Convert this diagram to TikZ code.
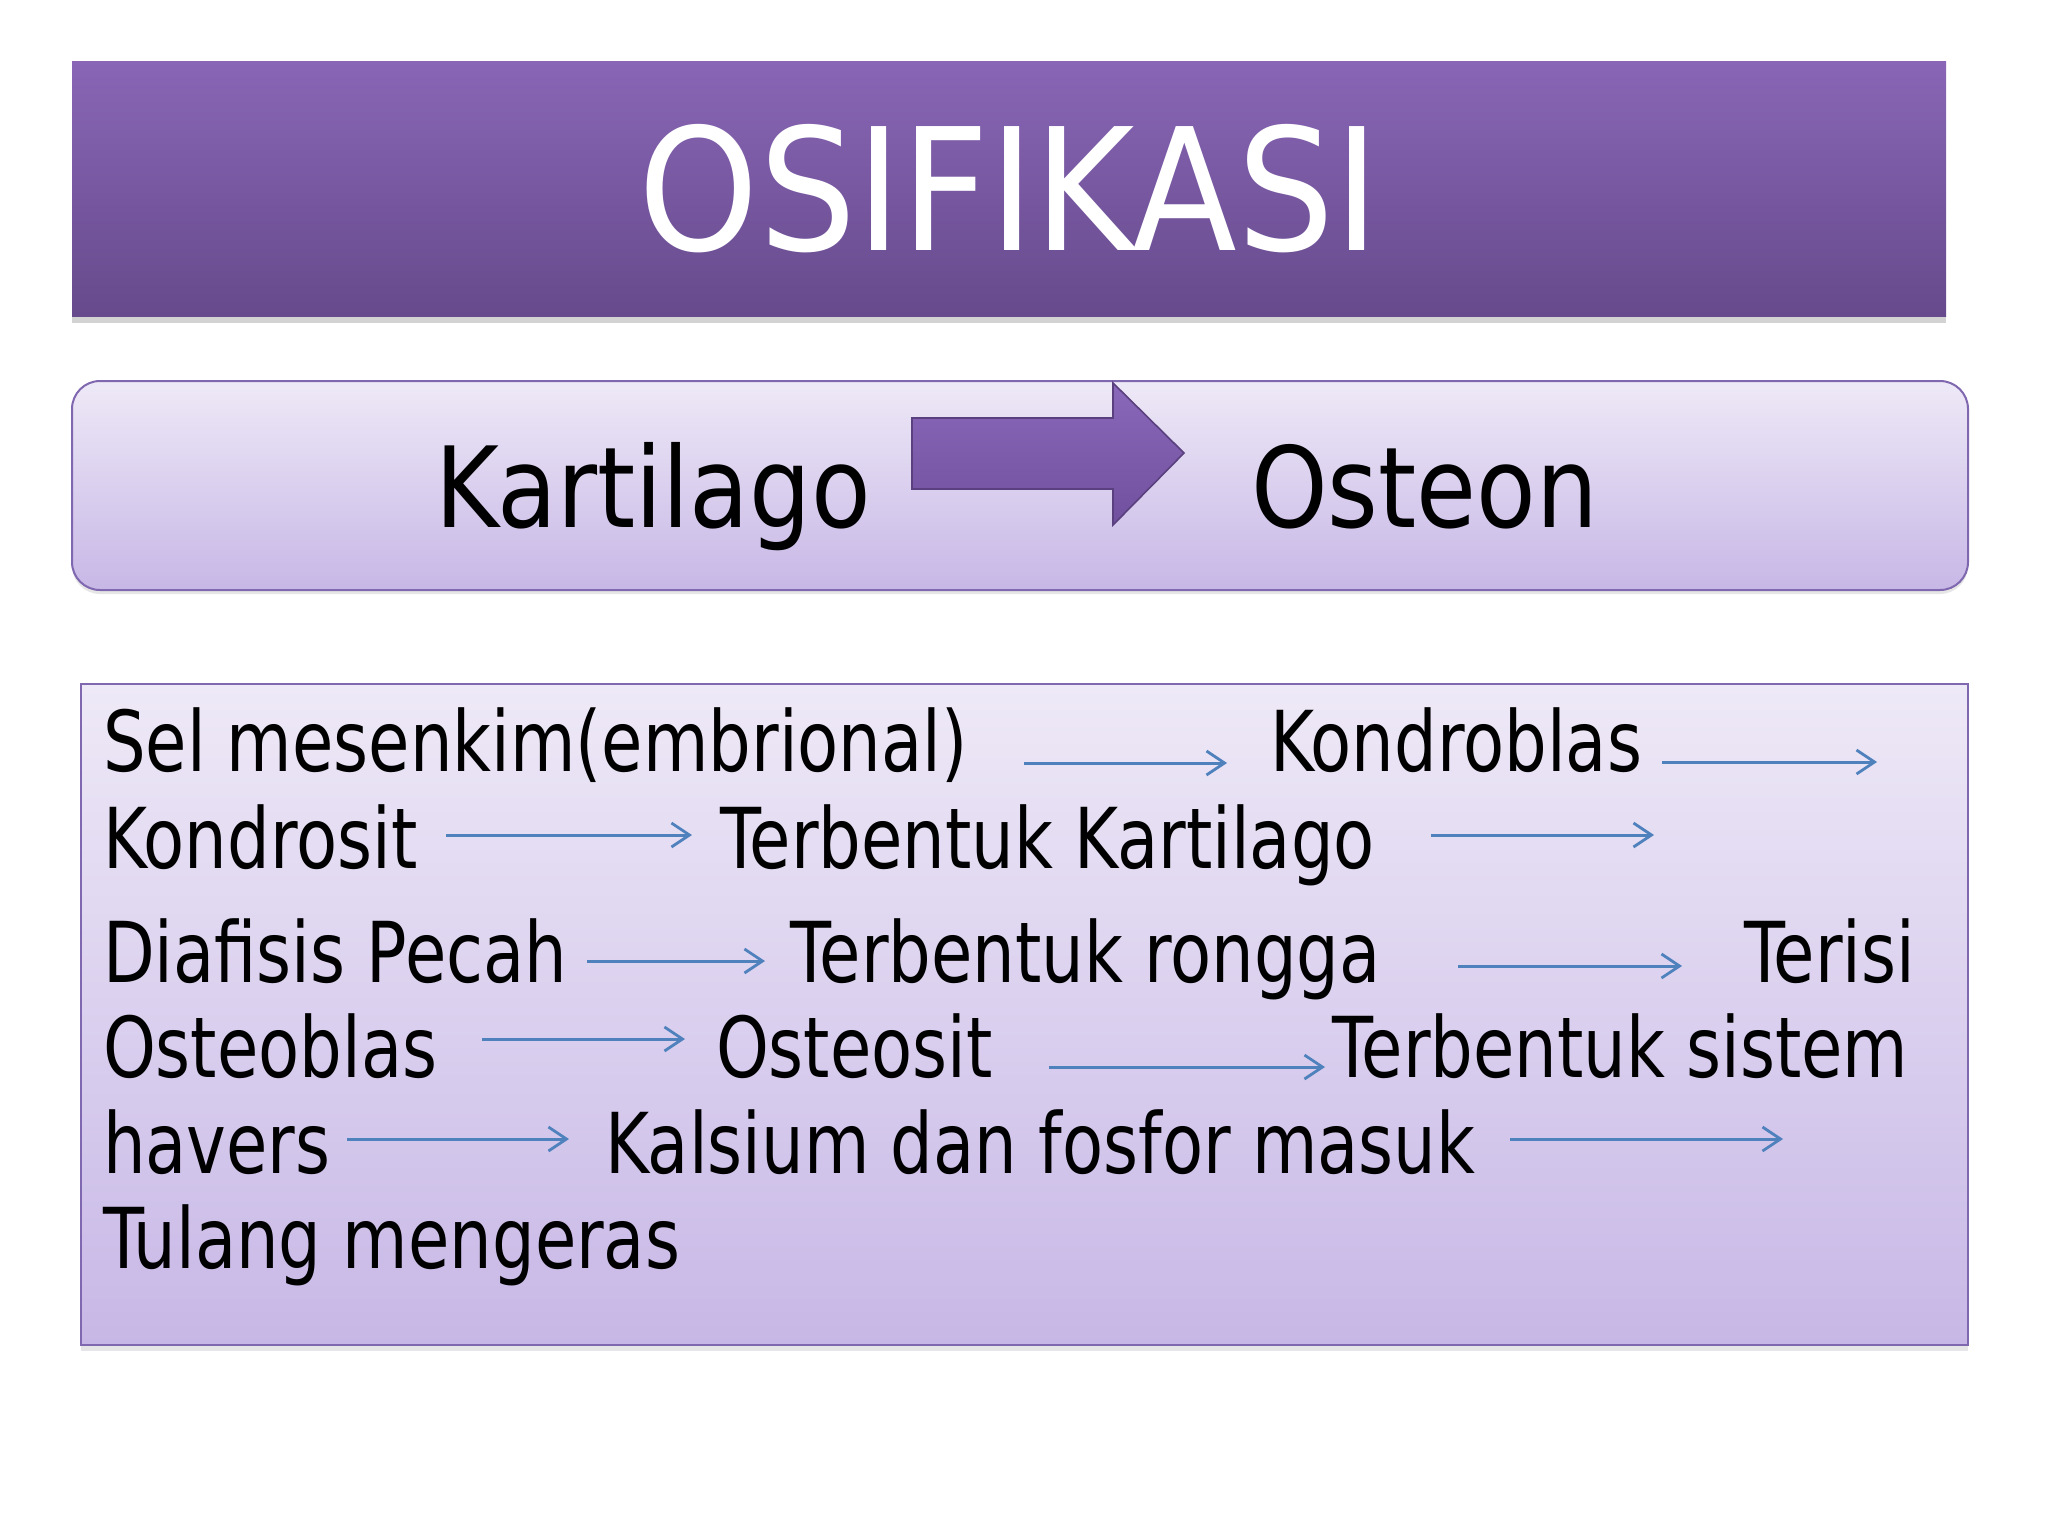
\documentclass[tikz,border=0pt]{standalone}
\usepackage{fontspec}
\setmainfont{DejaVu Sans}
\newfontfamily\titlefont[FakeStretch=0.9]{DejaVu Sans}
\newfontfamily\midfont[FakeStretch=0.87]{DejaVu Sans}
\newfontfamily\bodyfont[FakeStretch=0.8]{DejaVu Sans}
\usetikzlibrary{arrows.meta, shadows, calc, positioning}

\definecolor{titletop}{RGB}{137,102,182}
\definecolor{titlebot}{RGB}{102,74,140}
\definecolor{lavtop}{RGB}{238,233,247}
\definecolor{lavbot}{RGB}{199,183,230}
\definecolor{lavedge}{RGB}{128,104,176}
\definecolor{arrtop}{RGB}{138,104,186}
\definecolor{arrbot}{RGB}{112,80,158}
\definecolor{flowblue}{RGB}{79,129,189}

\begin{document}
\begin{tikzpicture}[x=0.5pt, y=-0.5pt, outer sep=0pt]

\tikzstyle{panel}=[rectangle, inner sep=0pt, top color=lavtop, bottom color=lavbot, draw=lavedge, line width=1pt]
\tikzstyle{titlebox}=[rectangle, inner sep=0pt, top color=titletop, bottom color=titlebot, minimum width=937pt, minimum height=127.5pt, text=white, font=\titlefont\fontsize{85}{90}\selectfont, drop shadow={shadow xshift=0pt, shadow yshift=-3pt, opacity=0.35}]
\tikzstyle{bigword}=[anchor=base west, inner sep=0pt, font=\midfont\fontsize{56}{64}\selectfont]
\tikzstyle{word}=[anchor=base west, inner sep=0pt, font=\bodyfont\fontsize{42}{50}\selectfont]
\tikzstyle{flow}=[draw=flowblue, line width=1.5pt, -{Straight Barb[length=9pt, width=12pt, line width=1.4pt]}]

\useasboundingbox (0,0) rectangle (2048,1536);

\node[titlebox] (title) at (1009,189) {OSIFIKASI};

\node[panel, rounded corners=14pt, minimum width=948pt, minimum height=104.5pt, drop shadow={shadow xshift=0pt, shadow yshift=-2pt, opacity=0.2}] (change) at (1020,485.5) {};
\node[bigword] (kartilago) at (435,527) {Kartilago};
\node[bigword] (osteon) at (1251,527) {Osteon};
\filldraw[top color=arrtop, bottom color=arrbot, draw=arrbot!80!black, line width=0.8pt]
  (912,418) -- (1113,418) -- (1113,383) -- (1184,453) -- (1113,525) -- (1113,489) -- (912,489) -- cycle;

\node[panel, minimum width=943.5pt, minimum height=330.5pt, drop shadow={shadow xshift=0pt, shadow yshift=-3pt, opacity=0.2}] (steps) at (1024.5,1014.5) {};

\node[word] (mesenkim) at (103,771) {Sel mesenkim(embrional)};
\node[word] (kondroblas) at (1270,771) {Kondroblas};
\node[word] (kondrosit) at (103,868) {Kondrosit};
\node[word] (kartilagobaru) at (720,868) {Terbentuk Kartilago};
\node[word] (diafisis) at (103,982) {Diafisis Pecah};
\node[word] (rongga) at (790,982) {Terbentuk rongga};
\node[word] (terisi) at (1744,982) {Terisi};
\node[word] (osteoblas) at (103,1077) {Osteoblas};
\node[word] (osteosit) at (716,1077) {Osteosit};
\node[word] (sistem) at (1332,1077) {Terbentuk sistem};
\node[word] (havers) at (103,1173) {havers};
\node[word] (kalsium) at (605,1173) {Kalsium dan fosfor masuk};
\node[word] (tulang) at (103,1268) {Tulang mengeras};

\coordinate (f1a) at (1024,763);  \coordinate (f1b) at (1227,763);
\coordinate (f2a) at (1662,762);  \coordinate (f2b) at (1877,762);
\coordinate (f3a) at (446,835);   \coordinate (f3b) at (692,835);
\coordinate (f4a) at (1431,835);  \coordinate (f4b) at (1654,835);
\coordinate (f5a) at (587,961);   \coordinate (f5b) at (765,961);
\coordinate (f6a) at (1458,966);  \coordinate (f6b) at (1682,966);
\coordinate (f7a) at (482,1039);  \coordinate (f7b) at (685,1039);
\coordinate (f8a) at (1049,1067); \coordinate (f8b) at (1325,1067);
\coordinate (f9a) at (347,1139);  \coordinate (f9b) at (569,1139);
\coordinate (f10a) at (1510,1139); \coordinate (f10b) at (1783,1139);

\foreach \i in {1,...,10}
  \draw[flow] (f\i a) -- (f\i b);
\end{tikzpicture}
\end{document}
